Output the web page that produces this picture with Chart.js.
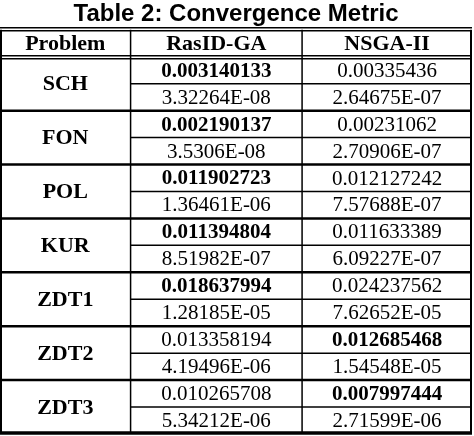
<!DOCTYPE html>
<html><head><meta charset="utf-8">
<script src="https://cdn.jsdelivr.net/npm/chart.js@4"></script>
<style>html,body{margin:0;padding:0;background:#fff}#c{display:block}</style>
</head><body>
<div style="width:474px;height:436px"><canvas id="c"></canvas></div>
<script>
var problems = ['SCH', 'FON', 'POL', 'KUR', 'ZDT1', 'ZDT2', 'ZDT3'];
var headers = ['Problem', 'RasID-GA', 'NSGA-II'];
var rasidMean = ['0.003140133', '0.002190137', '0.011902723', '0.011394804', '0.018637994', '0.013358194', '0.010265708'];
var rasidVar = ['3.32264E-08', '3.5306E-08', '1.36461E-06', '8.51982E-07', '1.28185E-05', '4.19496E-06', '5.34212E-06'];
var nsgaMean = ['0.00335436', '0.00231062', '0.012127242', '0.011633389', '0.024237562', '0.012685468', '0.007997444'];
var nsgaVar = ['2.64675E-07', '2.70906E-07', '7.57688E-07', '6.09227E-07', '7.62652E-05', '1.54548E-05', '2.71599E-06'];
var best = ['RasID-GA', 'RasID-GA', 'RasID-GA', 'RasID-GA', 'RasID-GA', 'NSGA-II', 'NSGA-II'];
var colEdges = [0, 0.83, 1.92, 3];

var tablePlugin = {
  id: 'table',
  afterDraw: function (chart) {
    var ctx = chart.ctx, xs = chart.scales.x, ys = chart.scales.y;
    var X = function (v) { return xs.getPixelForValue(v); };
    var Y = function (v) { return ys.getPixelForValue(v); };
    var L = X(colEdges[0]), R = X(colEdges[3]);
    ctx.save();
    ctx.strokeStyle = '#000';
    function hline(y, x0, x1, w) { ctx.lineWidth = w; ctx.beginPath(); ctx.moveTo(x0, y); ctx.lineTo(x1, y); ctx.stroke(); }
    function vline(x, y0, y1, w) { ctx.lineWidth = w; ctx.beginPath(); ctx.moveTo(x, y0); ctx.lineTo(x, y1); ctx.stroke(); }
    function cell(t, c, r, bold, size) {
      ctx.font = (bold ? 'bold ' : '') + size + 'px "Liberation Serif"';
      ctx.fillStyle = '#000'; ctx.textAlign = 'center'; ctx.textBaseline = 'middle';
      ctx.fillText(t, (X(colEdges[c]) + X(colEdges[c + 1])) / 2, Y(r) + 1);
    }
    headers.forEach(function (h, i) { cell(h, i, 0.5, true, 22); });
    hline(Y(0) - 2, L, R, 1.5); hline(Y(0) + 1, L, R, 1.5);
    hline(Y(1) - 1, L, R, 1.5); hline(Y(1) + 2, L, R, 1.5);
    problems.forEach(function (p, i) {
      var r0 = 1 + i * 2;
      cell(p, 0, r0 + 1, true, 22);
      cell(rasidMean[i], 1, r0 + 0.5, best[i] === 'RasID-GA', 21);
      cell(nsgaMean[i], 2, r0 + 0.5, best[i] === 'NSGA-II', 21);
      cell(rasidVar[i], 1, r0 + 1.5, false, 21);
      cell(nsgaVar[i], 2, r0 + 1.5, false, 21);
      hline(Y(r0 + 1), X(colEdges[1]), R, 1.5);
      if (i > 0) hline(Y(r0), L, R, 2.5);
    });
    hline(Y(15) - 1, L, R, 3.5);
    vline(L + 1, Y(0), Y(15), 2);
    vline(R - 1, Y(0), Y(15), 2);
    vline(X(colEdges[1]), Y(0), Y(15), 1.5);
    vline(X(colEdges[2]), Y(0), Y(15), 1.5);
    ctx.restore();
  }
};

new Chart(document.getElementById('c'), {
  type: 'scatter',
  data: { datasets: [{ data: [], pointRadius: 0 }] },
  options: {
    responsive: true, maintainAspectRatio: false, animation: false,
    layout: { padding: { left: 0, right: 2, top: 0, bottom: 2 } },
    plugins: {
      legend: { display: false }, tooltip: { enabled: false },
      title: { display: true, text: 'Table 2: Convergence Metric', color: '#000',
        font: { family: '"Liberation Sans"', weight: 'bold', size: 24 }, padding: { top: 0, bottom: 1 } }
    },
    scales: {
      x: { type: 'linear', min: 0, max: 3, display: false },
      y: { type: 'linear', min: 0, max: 15, reverse: true, display: false }
    }
  },
  plugins: [tablePlugin]
});
</script>
</body></html>
